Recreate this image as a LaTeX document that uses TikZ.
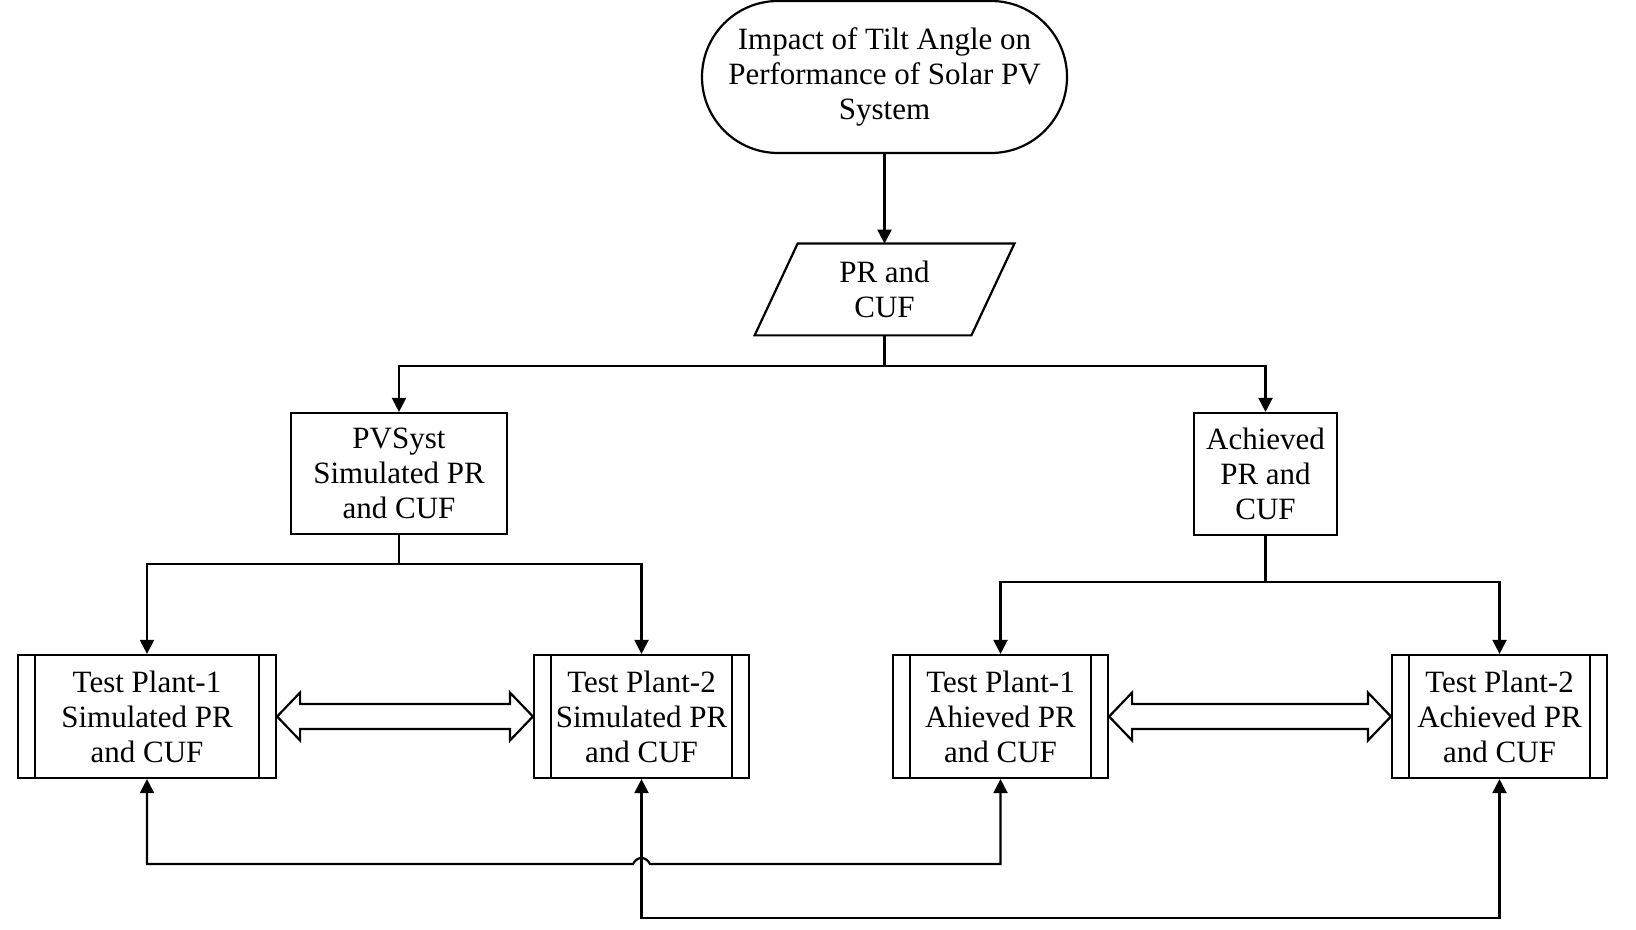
\documentclass[tikz,border=0pt]{standalone}
\usepackage{fontspec}
\setmainfont{Liberation Serif}
\usetikzlibrary{arrows.meta,calc,shapes.misc}
\begin{document}
\begin{tikzpicture}[x=0.5pt,y=-0.5pt,
  every node/.style={font=\fontsize{15.5pt}{17.5pt}\selectfont, align=center, inner sep=0pt},
  box/.style={draw, line width=1.1pt, rectangle},
  term/.style={draw, line width=1.1pt, rounded rectangle, minimum width=182.5pt, minimum height=76pt},
  pproc/.style={box, minimum height=61.5pt, path picture={
     \draw[line width=1.1pt] ([xshift=8.5pt]path picture bounding box.north west) -- ([xshift=8.5pt]path picture bounding box.south west);
     \draw[line width=1.1pt] ([xshift=-8.5pt]path picture bounding box.north east) -- ([xshift=-8.5pt]path picture bounding box.south east);}},
  conn/.style={line width=1.1pt},
  arr/.style={conn, -{Triangle[length=7pt,width=7pt]}},
  darr/.style={conn, {Triangle[length=7pt,width=7pt]}-{Triangle[length=7pt,width=7pt]}},
  fat/.style={line width=1.1pt, fill=white, line join=miter}
]
\fill[white] (0,0) rectangle (1636,930);
\useasboundingbox (0,0) rectangle (1636,930);

\node[term] (t) at (884.5,77) {Impact of Tilt Angle on\\Performance of Solar PV\\System};
\node[minimum width=108pt, minimum height=45.5pt] (pr) at (884.5,289.5) {PR and\\CUF};
\draw[line width=1.1pt] ($(pr.north west)+(21.5,0)$) -- ($(pr.north east)+(21.5,0)$) -- ($(pr.south east)+(-21.5,0)$) -- ($(pr.south west)+(-21.5,0)$) -- cycle;
\node[box, minimum width=108pt, minimum height=60.5pt] (pv) at (399,473.5) {PVSyst\\Simulated PR\\and CUF};
\node[box, minimum width=71.5pt, minimum height=61pt] (ac) at (1265.5,474) {Achieved\\PR and\\CUF};
\node[pproc, minimum width=129pt] (s1) at (147,716.5) {Test Plant-1\\Simulated PR\\and CUF};
\node[pproc, minimum width=107.5pt] (s2) at (641.5,716.5) {Test Plant-2\\Simulated PR\\and CUF};
\node[pproc, minimum width=107.5pt] (a1) at (1000.5,716.5) {Test Plant-1\\Ahieved PR\\and CUF};
\node[pproc, minimum width=107.5pt] (a2) at (1499.5,716.5) {Test Plant-2\\Achieved PR\\and CUF};

\draw[arr] (t.south) -- (pr.north);
\coordinate (j1) at (884.5,366);
\draw[conn] (pr.south) -- (j1);
\draw[arr] (j1) -| (pv.north);
\draw[arr] (j1) -| (ac.north);
\coordinate (j2) at (399,564);
\draw[conn] (pv.south) -- (j2);
\draw[arr] (j2) -| (s1.north);
\draw[arr] (j2) -| (s2.north);
\coordinate (j3) at (1265.5,582);
\draw[conn] (ac.south) -- (j3);
\draw[arr] (j3) -| (a1.north);
\draw[arr] (j3) -| (a2.north);

\draw[fat] (s1.east) -- ($(s1.east)+(23,-24)$) -- ($(s1.east)+(23,-12.5)$) -- ($(s2.west)+(-23,-12.5)$) -- ($(s2.west)+(-23,-24)$) -- (s2.west) -- ($(s2.west)+(-23,24)$) -- ($(s2.west)+(-23,12.5)$) -- ($(s1.east)+(23,12.5)$) -- ($(s1.east)+(23,24)$) -- cycle;
\draw[fat] (a1.east) -- ($(a1.east)+(23,-24)$) -- ($(a1.east)+(23,-12.5)$) -- ($(a2.west)+(-23,-12.5)$) -- ($(a2.west)+(-23,-24)$) -- (a2.west) -- ($(a2.west)+(-23,24)$) -- ($(a2.west)+(-23,12.5)$) -- ($(a1.east)+(23,12.5)$) -- ($(a1.east)+(23,24)$) -- cycle;

\coordinate (hl) at (633,864);
\coordinate (hr) at (650,864);
\draw[darr] (s1.south) |- (hl) .. controls (637,856) and (646,856) .. (hr) -| (a1.south);
\coordinate (bl) at (1000,918);
\draw[darr] (s2.south) |- (bl) -| (a2.south);
\end{tikzpicture}
\end{document}
